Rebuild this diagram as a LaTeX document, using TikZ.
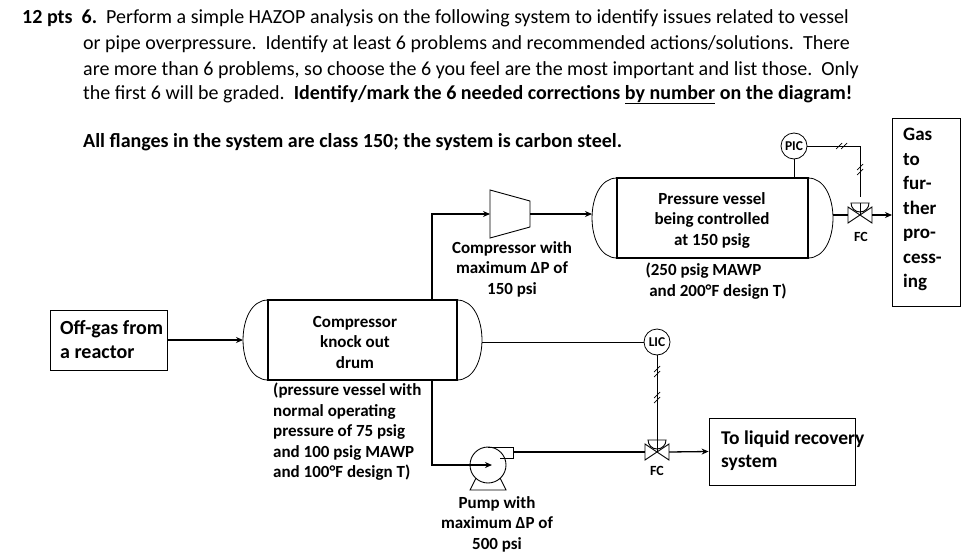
\documentclass[tikz,border=0pt]{standalone}
\usepackage{fontspec}
\setmainfont{Carlito}
\usetikzlibrary{arrows.meta}
\begin{document}
\begin{tikzpicture}[x=1pt,y=-1pt,
  pipe/.style={line width=1.3pt},
  arr/.style={line width=1.3pt,-{Stealth[length=7pt,width=6pt]}},
  sig/.style={line width=0.7pt},
  hd/.style={anchor=base west,inner sep=0pt,font=\fontsize{20}{22}\selectfont},
  lb/.style={inner sep=0pt,font=\bfseries\fontsize{17}{20.5}\selectfont,align=center},
  inst/.style={circle,draw,line width=0.8pt,minimum size=26pt,inner sep=0pt,font=\bfseries\fontsize{13.5}{13.5}\selectfont}]
\useasboundingbox (0,0) rectangle (976,551);
% header
\node[hd] (h1) at (22,24) {\textbf{12 pts} \ \textbf{6.}\ \ Perform a simple HAZOP analysis on the following system to identify issues related to vessel};
\node[hd] (h2) at (83,50) {or pipe overpressure.\ \ Identify at least 6 problems and recommended actions/solutions.\ \ There};
\node[hd] (h3) at (83,75) {are more than 6 problems, so choose the 6 you feel are the most important and list those.\ \ Only};
\node[hd] (h4) at (83,99) {the first 6 will be graded.\ \ \textbf{Identify/mark the 6 needed corrections \underline{by number} on the diagram!}};
\node[hd] (h5) at (83,147) {\textbf{All flanges in the system are class 150; the system is carbon steel.}};
% off-gas box
\node[draw,line width=0.8pt,minimum width=117pt,minimum height=60pt,inner sep=0pt] (off) at (108.5,340) {};
\node[anchor=west,lb,align=left,font=\bfseries\fontsize{20}{24}\selectfont] (offt) at (60,340) {Off-gas from\\a reactor};
% KO drum
\draw[line width=1.6pt] (268,300) rectangle (457,380);
\draw[line width=0.8pt] (268,300) .. controls (234.7,300) and (234.7,380) .. (268,380);
\draw[line width=0.8pt] (457,300) .. controls (490.3,300) and (490.3,380) .. (457,380);
\coordinate (koL) at (243,340);
\coordinate (koR) at (482,342);
\coordinate (koT) at (432,300);
\coordinate (koB) at (432,380);
\node[lb] (kot) at (355,342) {Compressor\\knock out\\drum};
\node[lb,align=left,anchor=north west] (kos) at (273,383) {(pressure vessel with\\normal operating\\pressure of 75 psig\\and 100 psig MAWP\\and 100°F design T)};
\draw[arr] (off.east) -- (koL);
% compressor
\draw[line width=0.9pt] (490,190) -- (530,201) -- (530,227) -- (490,238) -- cycle;
\coordinate (cin) at (490,214);
\coordinate (cout) at (530,214);
\node[lb] (ct) at (512,269) {Compressor with\\maximum ΔP of\\150 psi};
\draw[arr] (koT) -- (432,214) -- (cin);
% pressure vessel
\draw[line width=1.6pt] (617,178) rectangle (808,258);
\draw[line width=0.8pt] (617,178) .. controls (583.7,178) and (583.7,258) .. (617,258);
\draw[line width=0.8pt] (808,178) .. controls (841.3,178) and (841.3,258) .. (808,258);
\coordinate (pvL) at (592,214);
\coordinate (pvR) at (833,215);
\node[lb] (pvt) at (712,220) {Pressure vessel\\being controlled\\at 150 psig};
\node[lb,align=left] (pvs) at (716,281) {(250 psig MAWP\\\ and 200°F design T)};
\draw[arr] (cout) -- (pvL);
% PIC and valve
\node[inst] (pic) at (794,146) {PIC};
\draw[line width=0.9pt] (pic.south) -- (794,178);
\node[inner sep=0pt,minimum width=24pt,minimum height=16pt] (v1) at (860,215) {};
\draw[line width=0.9pt] (848,207) -- (872,223) -- (872,207) -- (848,223) -- cycle;
\draw[line width=0.9pt] (851,203) arc[start angle=180,end angle=0,radius=9] -- cycle;
\draw[sig] (pic.east) -- (860,146) -- (860,197);
\draw[sig] (860,203) -- (860,215);
\draw[sig] (836,149) -- (842,143) (841,149) -- (847,143);
\draw[sig] (857,170) -- (863,164) (857,175) -- (863,169);
\node[lb,font=\bfseries\fontsize{14}{14}\selectfont] (fc1) at (861,237) {FC};
\node[draw,line width=0.8pt,minimum width=68pt,minimum height=188pt,inner sep=0pt] (gas) at (926,212) {};
\node[lb,align=left,anchor=north west,font=\bfseries\fontsize{19}{24.5}\selectfont] (gast) at (903,128) {Gas\\to\\fur-\\ther\\pro-\\cess-\\ing};
\draw[pipe] (pvR) -- (848,215);
\draw[arr] (872,215) -- (892,215);
% LIC
\node[inst] (lic) at (657,342) {LIC};
\draw[line width=0.9pt] (koR) -- (lic.west);
\node[inner sep=0pt,minimum width=24pt,minimum height=16pt] (v2) at (657,452) {};
\draw[line width=0.9pt] (645,444) -- (669,460) -- (669,444) -- (645,460) -- cycle;
\draw[line width=0.9pt] (648,440) arc[start angle=180,end angle=0,radius=9] -- cycle;
\draw[sig] (lic.south) -- (657,431);
\draw[sig] (657,431) -- (657,452);
\draw[sig] (654,372) -- (660,366) (654,377) -- (660,371);
\draw[sig] (654,398) -- (660,392) (654,403) -- (660,397);
\node[lb,font=\bfseries\fontsize{14}{14}\selectfont] (fc2) at (657,471) {FC};
% pump
\node[circle,draw,line width=0.9pt,minimum size=36pt,inner sep=0pt] (pump) at (488,465) {};
\draw[line width=0.9pt] (488,447) -- (513,447) -- (513,458) -- (500,458);
\draw[line width=0.9pt] (476,478) -- (470,490) -- (506,490) -- (500,478);
\draw[arr] (koB) -- (432,465) -- (492,465);
\draw[pipe] (513,452) -- (645,452);
\node[lb] (pt) at (497,524) {Pump with\\maximum ΔP of\\500 psi};
% liquid recovery
\node[draw,line width=0.8pt,minimum width=146pt,minimum height=67pt,inner sep=0pt] (liq) at (782,451.5) {};
\node[lb,align=left,anchor=west,font=\bfseries\fontsize{19.5}{23}\selectfont] (liqt) at (721,451) {To liquid recovery\\system};
\draw[arr] (669,452) -- (liq.west);
\end{tikzpicture}
\end{document}
